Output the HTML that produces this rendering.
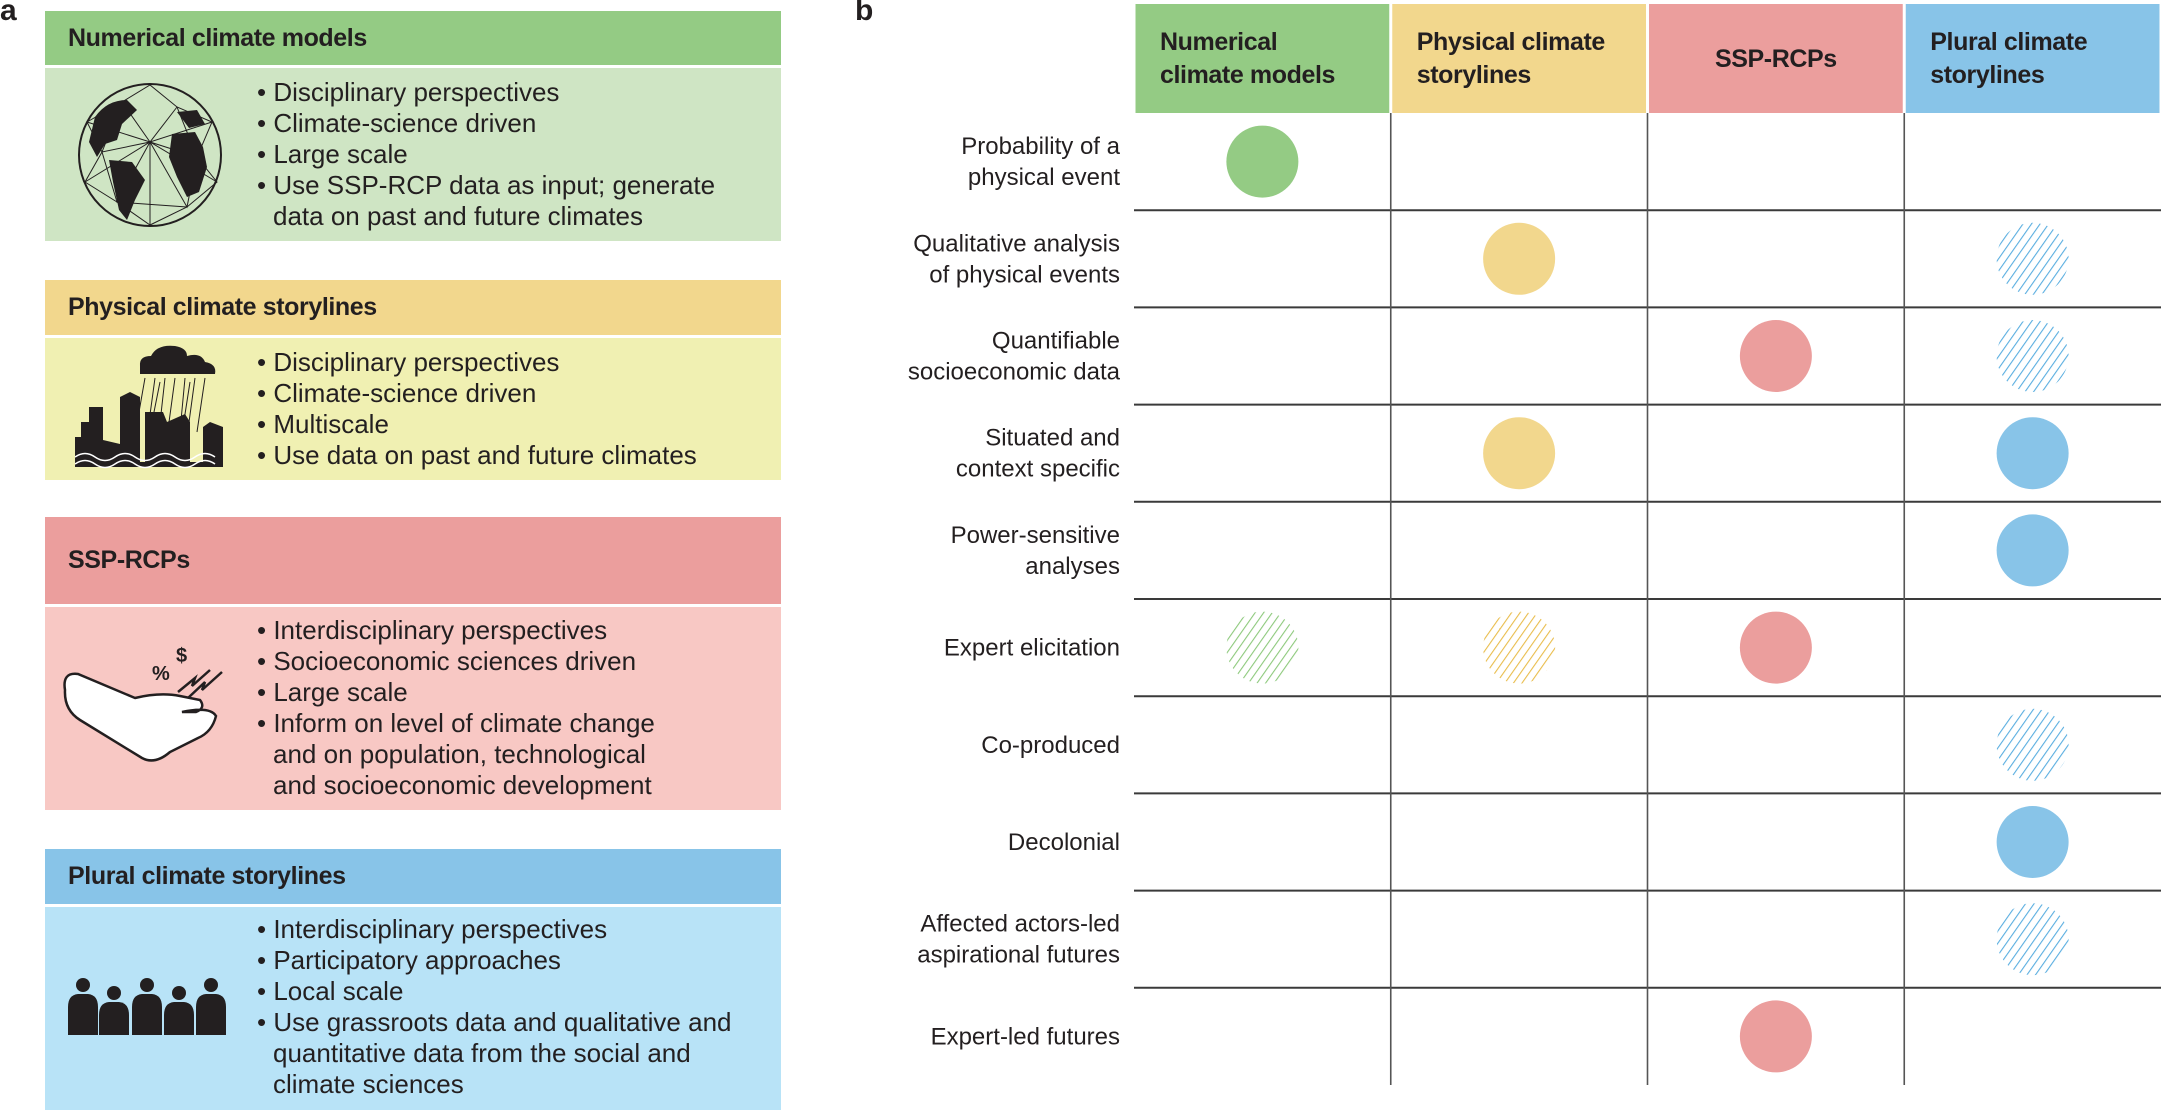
<!DOCTYPE html>
<html><head><meta charset="utf-8">
<style>
html,body{margin:0;padding:0;background:#fff;}
body{width:2161px;height:1110px;position:relative;overflow:hidden;font-family:"Liberation Sans",sans-serif;color:#231f20;}
.lbl{position:absolute;font-weight:bold;font-size:30px;}
.hdr{position:absolute;left:45px;width:736px;font-weight:bold;font-size:25px;letter-spacing:-0.4px;display:flex;align-items:center;box-sizing:border-box;padding-left:23px;}
.bod{position:absolute;left:45px;width:736px;}
.txt{position:absolute;left:212px;font-size:26px;line-height:31px;letter-spacing:0px;white-space:nowrap;}
.txt div{padding-left:16px;text-indent:-16px;}
svg.icon{position:absolute;}
</style></head>
<body>
<div class="lbl" style="left:0;top:-6px;">a</div>
<div class="lbl" style="left:855px;top:-6px;">b</div>

<div class="hdr" style="top:11px;height:54px;background:#94cb84;">Numerical climate models</div>
<div class="bod" style="top:68px;height:173px;background:#cfe5c4;">
  <div class="txt" style="top:9px;">
    <div>• Disciplinary perspectives</div><div>• Climate-science driven</div><div>• Large scale</div><div>• Use SSP-RCP data as input; generate<br>data on past and future climates</div>
  </div>
</div>
<svg class="icon" style="left:77px;top:82px" width="146" height="146" viewBox="0 0 146 146">
  <ellipse cx="73" cy="73" rx="71" ry="71" fill="none" stroke="#231f20" stroke-width="2"/>
  <g stroke="#231f20" stroke-width="1" fill="none">
    <path d="M10 40 L45 20 L73 3 L100 25 L135 40 L120 75 L140 100 L110 125 L73 143 L40 120 L8 100 L25 70 Z"/>
    <path d="M45 20 L25 70 L73 60 L100 25 M73 60 L120 75 L110 125 L73 60 L40 120 L25 70 M73 60 L73 143 M10 40 L73 60 L135 40 M8 100 L73 60 L140 100 M45 20 L73 60 M100 25 L120 75 M40 120 L110 125"/>
  </g>
  <path d="M18 35 Q30 18 50 18 L60 28 L45 42 L40 58 L28 62 L20 75 L12 60 Z" fill="#231f20"/>
  <path d="M32 78 L55 80 L68 98 L58 118 L50 138 L42 128 L36 100 Z" fill="#231f20"/>
  <path d="M95 52 L118 50 L126 65 L130 85 L122 110 L110 115 L100 95 L92 75 Z" fill="#231f20"/>
  <path d="M100 30 L120 28 L128 42 L112 46 Z" fill="#231f20"/>
</svg>

<div class="hdr" style="top:280px;height:55px;background:#f2d78d;">Physical climate storylines</div>
<div class="bod" style="top:338px;height:142px;background:#f0f0b2;">
  <div class="txt" style="top:9px;">
    <div>• Disciplinary perspectives</div><div>• Climate-science driven</div><div>• Multiscale</div><div>• Use data on past and future climates</div>
  </div>
</div>
<svg class="icon" style="left:75px;top:342px" width="150" height="130" viewBox="0 0 150 130">
  <path d="M65 24 Q64 14 76 14 Q82 2 100 4 Q112 6 112 14 Q126 10 130 20 Q142 22 140 32 L65 32 Z" fill="#231f20"/>
  <g stroke="#231f20" stroke-width="1">
    <path d="M70 36 L64 70 M80 36 L74 80 M90 36 L84 90 M100 36 L92 95 M110 36 L104 100 M120 36 L112 95 M130 36 L122 90 M85 40 L78 75 M115 40 L108 85"/>
  </g>
  <path d="M0 110 L0 95 L6 95 L6 80 L14 80 L14 65 L28 65 L28 98 L45 102 L45 55 L55 50 L65 55 L65 120 L70 120 L70 70 L88 70 L92 80 L110 72 L115 80 L115 120 L128 120 L128 85 L135 80 L148 85 L148 125 L0 125 Z" fill="#231f20"/>
  <path d="M0 115 Q10 108 20 115 T40 115 T60 115 T80 115 T100 115 T120 115 T140 115 M0 122 Q10 115 20 122 T40 122 T60 122 T80 122 T100 122 T120 122 T140 122" stroke="#fff" stroke-width="1.5" fill="none"/>
</svg>

<div class="hdr" style="top:517px;height:87px;background:#eb9e9d;">SSP-RCPs</div>
<div class="bod" style="top:607px;height:203px;background:#f8c8c4;">
  <div class="txt" style="top:8px;">
    <div>• Interdisciplinary perspectives</div><div>• Socioeconomic sciences driven</div><div>• Large scale</div><div>• Inform on level of climate change<br>and on population, technological<br>and socioeconomic development</div>
  </div>
</div>
<svg class="icon" style="left:60px;top:640px" width="180" height="125" viewBox="0 0 180 125">
  <text x="92" y="40" font-family="Liberation Sans" font-weight="bold" font-size="20" fill="#231f20">%</text>
  <text x="116" y="22" font-family="Liberation Sans" font-weight="bold" font-size="20" fill="#231f20">$</text>
  <path d="M118 52 L135 38 L132 46 L150 30 M128 58 L145 42 L142 50 L162 32" stroke="#231f20" stroke-width="2.5" fill="none"/>
  <path d="M5 50 Q2 32 18 34 L75 58 Q100 52 120 56 L140 60 Q146 68 136 72 L122 72 Q150 66 156 76 Q152 92 138 98 L110 112 Q95 125 82 118 L20 80 Q4 70 5 50 Z" fill="#fff" stroke="#231f20" stroke-width="2.5"/>
</svg>

<div class="hdr" style="top:849px;height:55px;background:#88c4e8;">Plural climate storylines</div>
<div class="bod" style="top:907px;height:203px;background:#b8e3f7;">
  <div class="txt" style="top:7px;">
    <div>• Interdisciplinary perspectives</div><div>• Participatory approaches</div><div>• Local scale</div><div>• Use grassroots data and qualitative and<br>quantitative data from the social and<br>climate sciences</div>
  </div>
</div>
<svg class="icon" style="left:66px;top:977px" width="170" height="58" viewBox="0 0 170 58">
  <g fill="#231f20">
    <g id="p"><circle cx="17" cy="8" r="7"/><path d="M2 58 L2 30 Q2 18 12 17 L22 17 Q32 18 32 30 L32 58 Z"/></g>
    <use href="#p" x="31" y="8"/><use href="#p" x="64" y="0"/><use href="#p" x="96" y="8"/><use href="#p" x="128" y="0"/>
  </g>
</svg>

<svg id="table" style="position:absolute;left:0;top:0" width="2161" height="1110">
  <defs>
    <pattern id="h-green" patternUnits="userSpaceOnUse" width="7" height="7" patternTransform="rotate(35)"><line x1="0" y1="0" x2="0" y2="7" stroke="#8dc97c" stroke-width="2.2"/></pattern>
    <pattern id="h-yellow" patternUnits="userSpaceOnUse" width="7" height="7" patternTransform="rotate(35)"><line x1="0" y1="0" x2="0" y2="7" stroke="#e9bd4c" stroke-width="2.2"/></pattern>
    <pattern id="h-red" patternUnits="userSpaceOnUse" width="7" height="7" patternTransform="rotate(35)"><line x1="0" y1="0" x2="0" y2="7" stroke="#eb9e9d" stroke-width="2.2"/></pattern>
    <pattern id="h-blue" patternUnits="userSpaceOnUse" width="7" height="7" patternTransform="rotate(35)"><line x1="0" y1="0" x2="0" y2="7" stroke="#5aaee0" stroke-width="2.2"/></pattern>
  </defs>
</svg>

<script>
const columns = ["Numerical climate models", "Physical climate storylines", "SSP-RCPs", "Plural climate storylines"];
const columnLines = [["Numerical", "climate models"], ["Physical climate", "storylines"], ["SSP-RCPs"], ["Plural climate", "storylines"]];
const rowLabels = [["Probability of a", "physical event"], ["Qualitative analysis", "of physical events"], ["Quantifiable", "socioeconomic data"], ["Situated and", "context specific"], ["Power-sensitive", "analyses"], ["Expert elicitation"], ["Co-produced"], ["Decolonial"], ["Affected actors-led", "aspirational futures"], ["Expert-led futures"]];
// 0 = none, 1 = solid circle, 2 = hatched circle ; one array per column
const numericalMarks = [1,0,0,0,0,2,0,0,0,0];
const physicalMarks  = [0,1,0,1,0,2,0,0,0,0];
const sspMarks       = [0,0,1,0,0,1,0,0,0,1];
const pluralMarks    = [0,2,2,1,1,0,2,1,2,0];

const colFill = ["#94cb84", "#f2d78d", "#eb9e9d", "#88c4e8"];
const hatchIds = ["h-green", "h-yellow", "h-red", "h-blue"];
const marks = [numericalMarks, physicalMarks, sspMarks, pluralMarks];

const NS = "http://www.w3.org/2000/svg";
const svg = document.getElementById("table");
const tableLeft = 1134, tableRight = 2161, headTop = 4, headBottom = 113, rowH = 97.2;
const colW = (tableRight - tableLeft) / columns.length;
const xCol = i => tableLeft + colW * i;
const xColC = i => xCol(i) + colW / 2;
const yRow = r => headBottom + rowH * r;
const yRowC = r => yRow(r) + rowH / 2;
function mk(tag, attrs) { const e = document.createElementNS(NS, tag); for (const k in attrs) e.setAttribute(k, attrs[k]); svg.appendChild(e); return e; }

columns.forEach((c, i) => {
  const r = mk("rect", {x: xCol(i) + 1.5, y: headTop, width: colW - 3, height: headBottom - headTop, fill: colFill[i]});
  
  
  const lines = columnLines[i];
  const t = mk("text", {"font-family": "Liberation Sans, sans-serif", "font-weight": "bold", "font-size": "25", fill: "#231f20", "letter-spacing": "-0.4"});
  
  
  const single = lines.length === 1;
  lines.forEach((ln, k) => {
    const ts = document.createElementNS(NS, "tspan");
    ts.setAttribute("x", single ? xColC(i) : xCol(i) + 26);
    ts.setAttribute("y", single ? 67 : 50 + k * 33);
    if (single) ts.setAttribute("text-anchor", "middle");
    ts.textContent = ln; t.appendChild(ts);
  });
});

for (let r = 1; r < rowLabels.length; r++) {
  const l = mk("line", {x1: tableLeft, x2: tableRight, y1: yRow(r), y2: yRow(r), stroke: "#3a3a3a", "stroke-width": 2});
  
  
}
for (let i = 1; i < columns.length; i++) {
  const l = mk("line", {x1: xCol(i), x2: xCol(i), y1: headBottom, y2: yRow(rowLabels.length), stroke: "#555", "stroke-width": 1.6});
  
  
}

rowLabels.forEach((lines, r) => {
  const t = mk("text", {"font-family": "Liberation Sans, sans-serif", "font-size": "24", fill: "#231f20", "text-anchor": "end"});
  
  
  const y0 = yRowC(r) + 8 - (lines.length - 1) * 15.5;
  lines.forEach((ln, k) => {
    const ts = document.createElementNS(NS, "tspan");
    ts.setAttribute("x", 1120); ts.setAttribute("y", y0 + k * 31);
    ts.textContent = ln; t.appendChild(ts);
  });
});

marks.forEach((col, i) => {
  col.forEach((v, r) => {
    if (!v) return;
    const c = mk("circle", {cx: xColC(i), cy: yRowC(r), r: 36, fill: v === 1 ? colFill[i] : "url(#" + hatchIds[i] + ")"});
    
    
  });
});
</script>
</body></html>
